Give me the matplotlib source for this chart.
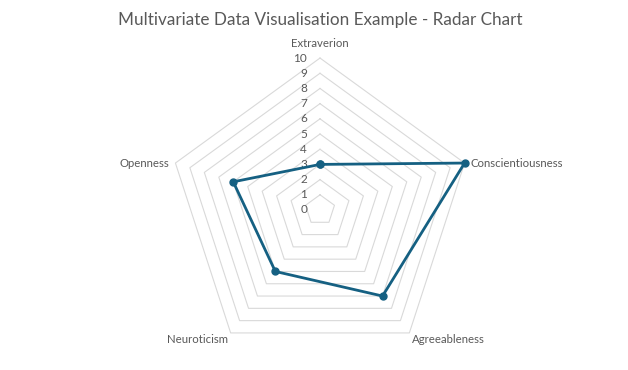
import matplotlib
matplotlib.use("Agg")
import matplotlib.pyplot as plt
import numpy as np

plt.rcParams["font.family"] = ["Lato", "DejaVu Sans"]

categories = ["Extraverion", "Conscientiousness", "Agreeableness", "Neuroticism", "Openness"]
values = [3, 10, 7, 5, 6]
levels = list(range(0, 11))

LINE = "#156082"
GRID = "#d9d9d9"
TEXT = "#595959"
FS = 8.2

n = len(categories)
ang = np.pi / 2 - 2 * np.pi * np.arange(n) / n
ux, uy = np.cos(ang), np.sin(ang)

fig = plt.figure(figsize=(6.28, 3.70), dpi=100)
ax = fig.add_axes([0, 0, 1, 1])
ax.set_xlim(-21.05, 20.26)
ax.set_ylim(-10.53, 13.82)
ax.axis("off")

# pentagon grid
for lv in levels[1:]:
    ax.plot(np.append(ux, ux[0]) * lv, np.append(uy, uy[0]) * lv, color=GRID, lw=0.8, zorder=1)

# tick labels
for lv in levels:
    ax.text(-0.85, lv, str(lv), ha="right", va="center", fontsize=8.5, color=TEXT)

# series
v = np.array(values, dtype=float)
ax.plot(np.append(ux * v, ux[0] * v[0]), np.append(uy * v, uy[0] * v[0]),
        color=LINE, lw=2, marker="o", ms=5, zorder=3)

# category labels
ax.text(0, 10.95, categories[0], ha="center", va="center", fontsize=FS, color=TEXT)
ax.text(ux[1] * 10 + 0.4, uy[1] * 10, categories[1], ha="left", va="center", fontsize=FS, color=TEXT)
ax.text(ux[2] * 10 + 0.2, uy[2] * 10 - 0.05, categories[2], ha="left", va="top", fontsize=FS, color=TEXT)
ax.text(ux[3] * 10 - 0.2, uy[3] * 10 - 0.05, categories[3], ha="right", va="top", fontsize=FS, color=TEXT)
ax.text(ux[4] * 10 - 0.4, uy[4] * 10, categories[4], ha="right", va="center", fontsize=FS, color=TEXT)

fig.text(0.51, 0.945, "Multivariate Data Visualisation Example - Radar Chart",
         ha="center", va="center", fontsize=12.3, color=TEXT)

fig.savefig("out.png", dpi=100)
